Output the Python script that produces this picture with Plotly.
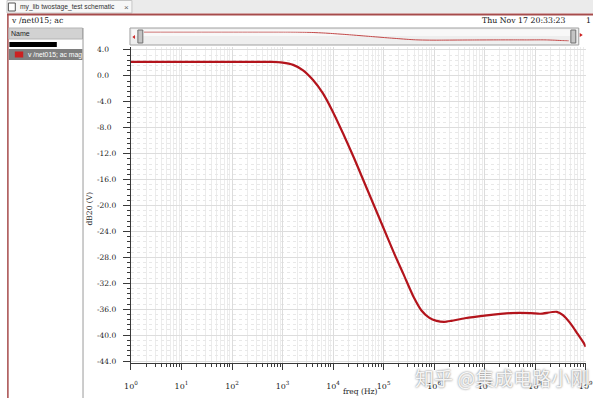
import plotly.graph_objects as go

W, H = 600, 398

# ---- data ----
freq_hz = [1, 10, 100, 631, 1000, 1620, 2510, 3980, 6310, 10000,
           15800, 25100, 39800, 63100, 100000, 158000, 251000, 398000, 562000, 794000,
           1120000, 1580000, 2190000, 4070000, 10000000, 32400000, 81300000, 126000000,
           269000000, 355000000, 490000000, 692000000, 912000000, 1000000000]
mag_db = [2.15, 2.15, 2.15, 2.15, 2.05, 1.7, 0.9, -0.6, -2.7, -5.6,
          -8.9, -12.4, -16.1, -19.8, -23.5, -27.2, -30.7, -34.2, -36.2, -37.3,
          -37.8, -37.95, -37.8, -37.4, -37.0, -36.6, -36.6, -36.7,
          -36.4, -36.9, -38.1, -39.8, -41.2, -41.8]

x_tick_vals = [1, 10, 100, 1000, 10000, 100000, 1000000, 10000000, 100000000, 1000000000]
x_tick_text = ["10<sup>%d</sup>" % i for i in range(10)]
x_minor_vals = [m * d for d in x_tick_vals[:-1] for m in range(2, 10)]
y_tick_vals = [4, 0, -4, -8, -12, -16, -20, -24, -28, -32, -36, -40, -44]
y_tick_text = ["4.0", "0.0", "-4.0", "-8.0", "-12.0", "-16.0", "-20.0", "-24.0",
               "-28.0", "-32.0", "-36.0", "-40.0", "-44.0"]

WAVE = "#b3141c"
SERIF = "DejaVu Serif"
SANS = "Liberation Sans"

# mild horizontal compensation for the narrowed page capture
X_SCALE, X_OFF = 0.988, 3.6


def fx(px):
    p = (px - X_OFF) / X_SCALE
    return min(max(p, 0.0), W) / W


def fy(py):
    return 1 - py / H


fig = go.Figure()
fig.add_trace(go.Scatter(x=freq_hz, y=mag_db, mode="lines",
                         line=dict(color=WAVE, width=2.2, shape="spline", smoothing=0.7),
                         xaxis="x", yaxis="y", showlegend=False, hoverinfo="skip"))
# overview trace inside the scroll bar
fig.add_trace(go.Scatter(x=freq_hz, y=mag_db, mode="lines",
                         line=dict(color="#c24848", width=1, shape="spline", smoothing=0.7),
                         xaxis="x2", yaxis="y2", showlegend=False, hoverinfo="skip"))

shapes = []


def rect(x0, y0, x1, y1, fill, line=None, lw=1):
    shapes.append(dict(type="rect", xref="paper", yref="paper", layer="below",
                       x0=fx(x0), x1=fx(x1), y0=fy(y1), y1=fy(y0),
                       fillcolor=fill, line=dict(color=line or fill, width=lw if line else 0)))


def hline(x0, x1, y, color, lw=1):
    shapes.append(dict(type="line", xref="paper", yref="paper", layer="below",
                       x0=fx(x0), x1=fx(x1), y0=fy(y), y1=fy(y), line=dict(color=color, width=lw)))


def vline(x, y0, y1, color, lw=1):
    shapes.append(dict(type="line", xref="paper", yref="paper", layer="below",
                       x0=fx(x), x1=fx(x), y0=fy(y0), y1=fy(y1), line=dict(color=color, width=lw)))


def tri(pts, color):
    path = "M " + " L ".join("%f,%f" % (fx(a), fy(b)) for a, b in pts) + " Z"
    shapes.append(dict(type="path", xref="paper", yref="paper", layer="above", path=path,
                       fillcolor=color, line=dict(color=color, width=0)))


# tab bar
rect(0, 0, 600, 13, "#ebebeb")
rect(0, 0.5, 130, 13, "#f7f7f7", "#c6c6c6")
rect(5, 3, 12, 11, "#ffffff", "#555555")
hline(0, 600, 14.5, "#a64b4b", 2)
vline(4.5, 14, 398, "#a64b4b", 1.5)
# left panel
rect(5.5, 28, 80, 39, "#d2d2d2", "#b4b4b4")
rect(6, 42, 54, 47, "#000000")
rect(5.5, 49, 80, 60, "#7e7e7e")
rect(11.5, 51.5, 20, 57.5, "#cc2020")
vline(80.5, 28, 398, "#9a9a9a", 1)
# scroll bar
rect(128, 28, 582, 45, "#eeeeee", "#a0a0a0")
rect(130, 29.5, 580, 36, "#f8f8f8")
rect(136, 30, 141, 43, "#c4c4c4", "#707070")
rect(574, 30, 579, 43, "#c4c4c4", "#707070")
tri([(133, 35), (133, 39), (130.5, 37)], "#cc2020")
tri([(583, 33), (583, 37), (586, 35)], "#cc2020")

annotations = []


def text(x, y, s, size, color="#111111", family=SERIF, anchor="left", **kw):
    annotations.append(dict(x=fx(x), y=fy(y), xref="paper", yref="paper", text=s,
                            showarrow=False, xanchor=anchor, yanchor="middle",
                            font=dict(size=size, color=color, family=family), **kw))


text(14.5, 7, "my_lib twostage_test schematic", 6.7, "#333333", SANS)
text(124, 7, "×", 8, "#666666", SANS, "center")
text(6, 20.5, "v /net015; ac", 7.8)
text(571, 20, "Thu Nov 17 20:33:23", 7.8, anchor="right")
text(600, 20, "1", 7.8, anchor="right")
text(6, 33.5, "Name", 7, "#222222", SANS)
text(23, 54.5, "v /net015; ac mag", 6.8, "#ffffff", SANS)
text(87, 208, "dB20 (V)", 7.5, "#222222", textangle=-90, anchor="center")
text(341, 391.5, "freq (Hz)", 7.5, "#222222", anchor="left")
# left-aligned y tick labels placed through the y axis scale
for v, t in zip(y_tick_vals, y_tick_text):
    annotations.append(dict(x=fx(92.5), y=v, xref="paper", yref="y", text=t, showarrow=False,
                            xanchor="left", yanchor="middle",
                            font=dict(size=7.5, color="#222222", family=SERIF)))
annotations.append(dict(x=fx(504), y=fy(377), xref="paper", yref="paper",
                        text="知乎 @集成电路小刚", showarrow=False,
                        xanchor="center", yanchor="middle",
                        font=dict(size=19, color="rgba(255,255,255,0.92)", family="Noto Sans CJK SC",
                                  shadow="0px 0px 2px #555")))

axis_col = "#3a3a3a"
fig.update_layout(
    width=W, height=H,
    margin=dict(l=0, r=0, t=0, b=0),
    paper_bgcolor="white", plot_bgcolor="rgba(0,0,0,0)",
    shapes=shapes, annotations=annotations,
    xaxis=dict(type="log", range=[0, 9], domain=[fx(129), fx(589)], anchor="y",
               tickmode="array", tickvals=x_tick_vals, ticktext=x_tick_text,
               ticks="outside", ticklen=6, tickcolor=axis_col, ticklabelstandoff=9,
               showline=True, linecolor=axis_col, linewidth=1,
               showgrid=True, gridcolor="#dcdcdc", gridwidth=1, zeroline=False,
               tickfont=dict(family=SERIF, size=8, color="#222222"),
               minor=dict(tickmode="array", tickvals=x_minor_vals, ticks="outside", ticklen=3,
                          tickcolor=axis_col, showgrid=True, gridcolor="#ececec", gridwidth=1)),
    yaxis=dict(range=[-44.3, 4.46], domain=[fy(363), fy(47)], anchor="x",
               tickmode="array", tickvals=y_tick_vals, showticklabels=False,
               ticks="outside", ticklen=7, tickcolor=axis_col,
               showline=True, linecolor=axis_col, linewidth=1,
               showgrid=True, gridcolor="#dddddd", gridwidth=1, zeroline=False,
               minor=dict(tickmode="linear", tick0=0, dtick=0.8, ticks="outside", ticklen=3,
                          tickcolor=axis_col, showgrid=True, gridcolor="#e8e8e8",
                          griddash="dot", gridwidth=1)),
    xaxis2=dict(type="log", range=[0, 9], domain=[fx(142), fx(572)], anchor="y2", visible=False),
    yaxis2=dict(range=[-44, 4], domain=[fy(41.4), fy(31.6)], anchor="x2", visible=False),
)

fig.write_html("out.html")
